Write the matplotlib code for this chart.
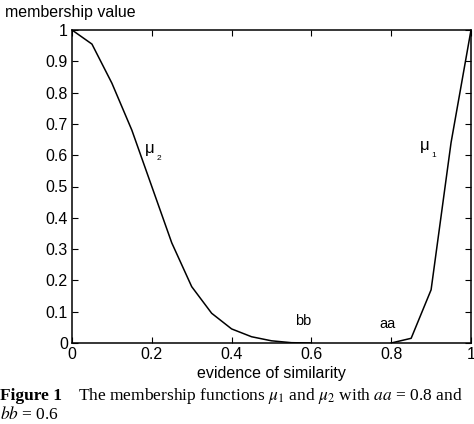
import numpy as np
import matplotlib
matplotlib.use('Agg')
import matplotlib.pyplot as plt
from matplotlib.ticker import FuncFormatter

# membership functions
x_mu2 = [0.0, 0.05, 0.10, 0.15, 0.20, 0.25, 0.30, 0.35, 0.40, 0.45, 0.50, 0.55, 0.60]
mu2 = [1.0, 0.955, 0.83, 0.68, 0.50, 0.32, 0.18, 0.095, 0.045, 0.02, 0.007, 0.001, 0.0]
x_mu1 = [0.80, 0.85, 0.90, 0.95, 1.00]
mu1 = [0.0, 0.015, 0.17, 0.64, 1.0]
xticks = [0, 0.2, 0.4, 0.6, 0.8, 1]
yticks = [0, 0.1, 0.2, 0.3, 0.4, 0.5, 0.6, 0.7, 0.8, 0.9, 1]

plt.rcParams['font.family'] = ['Liberation Sans', 'DejaVu Sans']
plt.rcParams['mathtext.fontset'] = 'stix'

fig = plt.figure(figsize=(4.74, 4.24), dpi=100)
ax = fig.add_axes([72 / 474, 1 - 343 / 424, 399 / 474, 313 / 424])

ax.plot(x_mu2, mu2, color='black', lw=1.1)
ax.plot(x_mu1, mu1, color='black', lw=1.1)

ax.set_xlim(0, 1)
ax.set_ylim(0, 1)
ax.set_xticks(xticks)
ax.set_yticks(yticks)
fmt = FuncFormatter(lambda v, p: '%g' % v)
ax.xaxis.set_major_formatter(fmt)
ax.yaxis.set_major_formatter(fmt)
ax.tick_params(direction='in', top=True, right=True, labelsize=11.5, length=4,
               width=0.8, pad=3)
for s in ax.spines.values():
    s.set_linewidth(1.1)

ax.set_xlabel('evidence of similarity', fontsize=11.5, labelpad=3)
fig.text(5 / 474, 1 - 12 / 424, 'membership value', fontsize=11.5, va='center', ha='left')

# curve labels
ax.text(0.183, 0.62, 'μ', fontsize=12, ha='left', va='center')
ax.text(0.212, 0.59, '2', fontsize=6, ha='left', va='center')
ax.text(0.872, 0.63, 'μ', fontsize=12, ha='left', va='center')
ax.text(0.901, 0.60, '1', fontsize=6, ha='left', va='center')
ax.text(0.58, 0.07, 'bb', fontsize=10.5, ha='center', va='center')
ax.text(0.79, 0.06, 'aa', fontsize=10.5, ha='center', va='center')

# caption
cap_font = dict(fontsize=12.5, family='Liberation Serif', ha='left')
fig.text(0, 1 - 400 / 424, 'Figure 1', fontweight='bold', va='baseline', **cap_font)
fig.text(78 / 474, 1 - 400 / 424,
         'The membership functions $\\mu_1$ and $\\mu_2$ with $aa$ = 0.8 and',
         va='baseline', **cap_font)
fig.text(0, 1 - 423 / 424, '$bb$ = 0.6', va='bottom', **cap_font)

fig.savefig('out.png', dpi=100)
